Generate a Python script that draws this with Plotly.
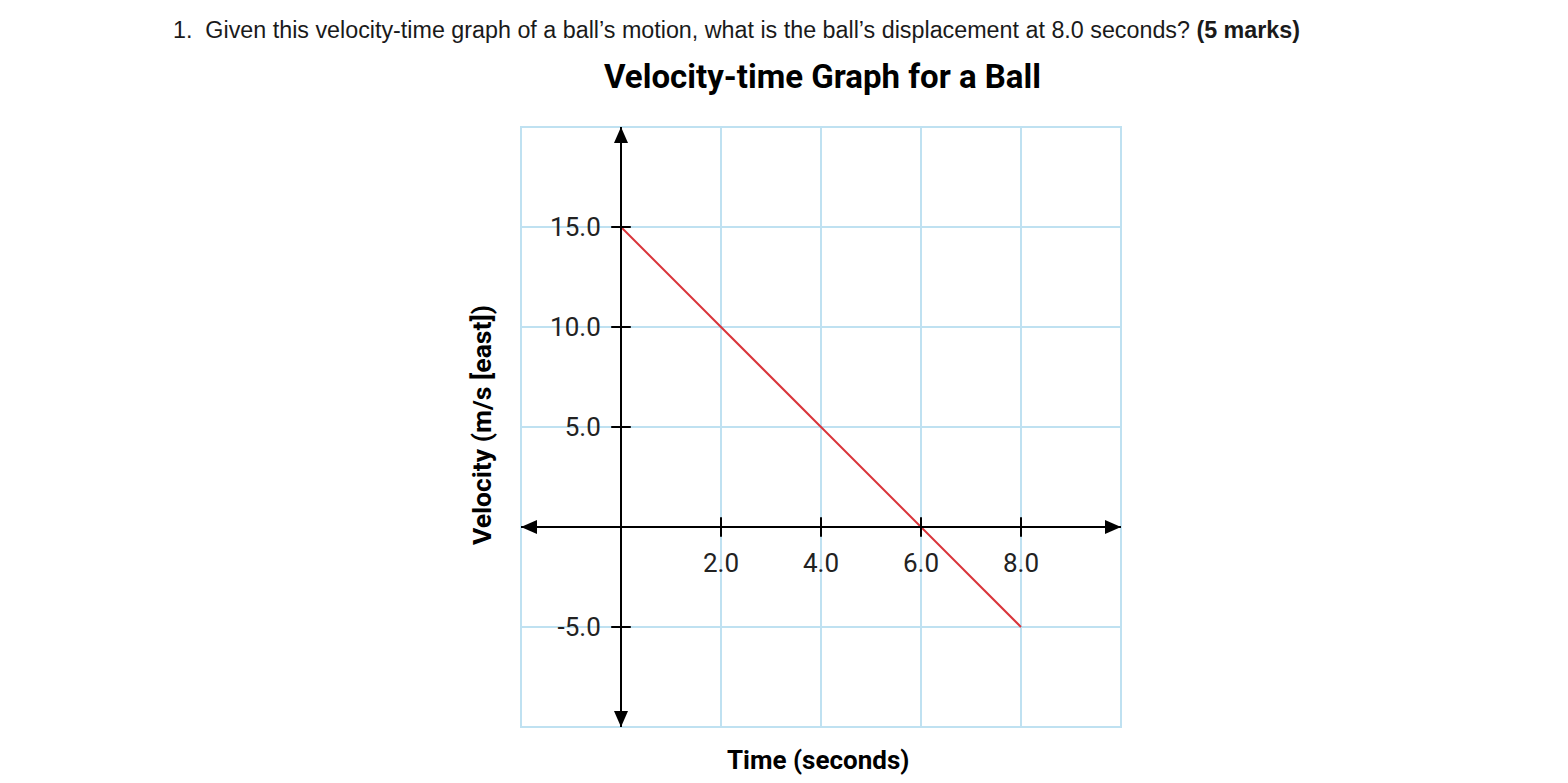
import plotly.graph_objects as go

# ---- data ----
time_s = [0.0, 2.0, 4.0, 6.0, 8.0]
velocity = [15.0, 10.0, 5.0, 0.0, -5.0]

x_tickvals = [2.0, 4.0, 6.0, 8.0]
x_ticktext = ["2.0", "4.0", "6.0", "8.0"]
y_tickvals = [-5.0, 5.0, 10.0, 15.0]
y_ticktext = ["-5.0", "5.0", "10.0", "15.0"]

x_range = [-2, 10]
y_range = [-10, 20]

question = ("1.&nbsp;&nbsp;Given this velocity-time graph of a ball\u2019s motion, what is the ball\u2019s "
            "displacement at 8.0 seconds? <b>(5 marks)</b>")
title = "Velocity-time Graph for a Ball"
x_title = "Time (seconds)"
y_title = "Velocity (m/s [east])"

GRID = "#bfe1f1"
FONT = "Roboto"

fig = go.Figure()

# velocity line
fig.add_trace(go.Scatter(x=time_s, y=velocity, mode="lines",
                         line=dict(color="#d9343a", width=2), hoverinfo="skip",
                         showlegend=False))

# crossing tick marks on the axes
fig.add_trace(go.Scatter(x=[0] * len(y_tickvals), y=y_tickvals, mode="markers",
                         marker=dict(symbol="line-ew", size=14, line=dict(color="black", width=2)),
                         showlegend=False, hoverinfo="skip", cliponaxis=False))
fig.add_trace(go.Scatter(x=x_tickvals, y=[0] * len(x_tickvals), mode="markers",
                         marker=dict(symbol="line-ns", size=14, line=dict(color="black", width=2)),
                         showlegend=False, hoverinfo="skip", cliponaxis=False))

xpos = (0 - x_range[0]) / (x_range[1] - x_range[0])
ypos = (0 - y_range[0]) / (y_range[1] - y_range[0])

L, R, T, B = 521, 447, 127, 56
W, H = 1568, 783
pw, ph = W - L - R, H - T - B
ux = (x_range[1] - x_range[0]) / pw  # data units per px
uy = (y_range[1] - y_range[0]) / ph

alen, ahw = 16, 7
shapes = [
    dict(type="rect", xref="paper", yref="paper", x0=0, x1=1, y0=0, y1=1,
         line=dict(color=GRID, width=2), layer="below"),
]
def tri(pts):
    return "M " + " L ".join(f"{a},{b}" for a, b in pts) + " Z"
# up
shapes.append(dict(type="path", xref="x", yref="y", fillcolor="black", line=dict(width=0),
                   path=tri([(0, y_range[1]), (-ahw * ux, y_range[1] - alen * uy), (ahw * ux, y_range[1] - alen * uy)])))
# down
shapes.append(dict(type="path", xref="x", yref="y", fillcolor="black", line=dict(width=0),
                   path=tri([(0, y_range[0]), (-ahw * ux, y_range[0] + alen * uy), (ahw * ux, y_range[0] + alen * uy)])))
# left
shapes.append(dict(type="path", xref="x", yref="y", fillcolor="black", line=dict(width=0),
                   path=tri([(x_range[0], 0), (x_range[0] + alen * ux, ahw * uy), (x_range[0] + alen * ux, -ahw * uy)])))
# right
shapes.append(dict(type="path", xref="x", yref="y", fillcolor="black", line=dict(width=0),
                   path=tri([(x_range[1], 0), (x_range[1] - alen * ux, ahw * uy), (x_range[1] - alen * ux, -ahw * uy)])))

fig.update_layout(
    width=W, height=H,
    margin=dict(l=L, r=R, t=T, b=B, pad=0),
    paper_bgcolor="white", plot_bgcolor="white",
    showlegend=False,
    shapes=shapes,
    xaxis=dict(range=x_range, anchor="free", position=ypos,
               tickvals=x_tickvals, ticktext=x_ticktext, ticks="",
               ticklabelstandoff=13,
               tickfont=dict(family=FONT, size=26, color="#222"),
               showgrid=True, gridcolor=GRID, gridwidth=2, zeroline=False,
               showline=True, linecolor="black", linewidth=2, fixedrange=True),
    yaxis=dict(range=y_range, anchor="free", position=xpos,
               tickvals=y_tickvals, ticktext=y_ticktext, ticks="",
               ticklabelstandoff=14,
               tickfont=dict(family=FONT, size=26, color="#222"),
               showgrid=True, gridcolor=GRID, gridwidth=2, zeroline=False,
               showline=True, linecolor="black", linewidth=2, fixedrange=True),
    annotations=[
        dict(text=question, xref="paper", yref="paper", x=(171 - L) / pw, y=1 + (T - 30) / ph,
             xanchor="left", yanchor="middle", showarrow=False,
             font=dict(family="Liberation Sans", size=23.3, color="#1a1a1a")),
        dict(text=f"<b>{title}</b>", xref="paper", yref="paper", x=(822 - L) / pw, y=1 + (T - 76) / ph,
             xanchor="center", yanchor="middle", showarrow=False,
             font=dict(family=FONT, size=33, color="black")),
        dict(text=f"<b>{x_title}</b>", xref="paper", yref="paper", x=(818 - L) / pw, y=-(760 - T - ph) / ph,
             xanchor="center", yanchor="middle", showarrow=False,
             font=dict(family=FONT, size=26, color="black")),
        dict(text=f"<b>{y_title}</b>", xref="paper", yref="paper", x=(482 - L) / pw, y=1 - (425 - T) / ph,
             xanchor="center", yanchor="middle", showarrow=False, textangle=-90,
             font=dict(family=FONT, size=26.5, color="black")),
    ],
)

fig.write_html("out.html")
